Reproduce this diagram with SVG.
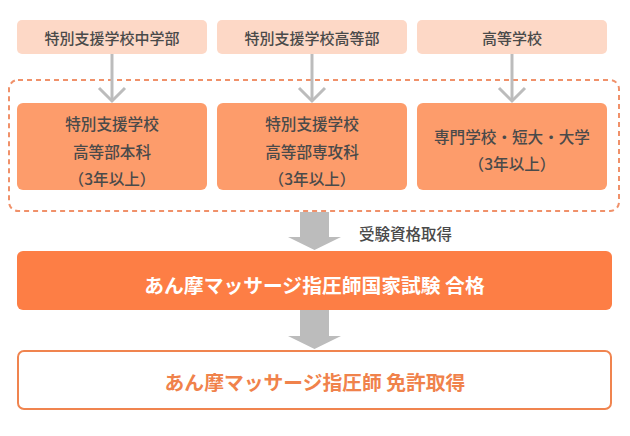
<svg xmlns="http://www.w3.org/2000/svg" width="630" height="436" viewBox="0 0 630 436">
<style>
text{font-family:"Noto Sans CJK JP","Noto Sans",sans-serif;dominant-baseline:central}
.t{font-size:15px;font-weight:500;fill:#4a4a4a;text-anchor:middle}
.m{font-size:15.6px}
.top{fill:#fdd8c6}
.mid{fill:#fd9c6b}
.arr{stroke:#bcbcbc;stroke-width:3;fill:none}
.big{fill:#bcbcbc}
.h{font-size:19.8px;font-weight:700;text-anchor:middle}
</style>
<rect x="0" y="0" width="630" height="436" fill="#ffffff"/>
<g id="container">
<rect x="9" y="80" width="610" height="131" rx="9" fill="none" stroke="#f0916a" stroke-width="2" stroke-dasharray="5 4"/>
</g>
<g id="top1"><rect class="top" x="17" y="20" width="190" height="34" rx="5"/><text class="t" x="112" y="37">特別支援学校中学部</text></g>
<g id="top2"><rect class="top" x="217" y="20" width="190" height="34" rx="5"/><text class="t" x="312" y="37">特別支援学校高等部</text></g>
<g id="top3"><rect class="top" x="417" y="20" width="190" height="34" rx="5"/><text class="t" x="512" y="37">高等学校</text></g>
<g id="mid1"><rect class="mid" x="17" y="103" width="190" height="87" rx="6"/>
<text class="t m" x="112" y="123">特別支援学校</text><text class="t m" x="112" y="151">高等部本科</text><text class="t m" x="112" y="178">（3年以上）</text></g>
<g id="mid2"><rect class="mid" x="217" y="103" width="190" height="87" rx="6"/>
<text class="t m" x="312" y="123">特別支援学校</text><text class="t m" x="312" y="151">高等部専攻科</text><text class="t m" x="312" y="178">（3年以上）</text></g>
<g id="mid3"><rect class="mid" x="417" y="103" width="190" height="87" rx="6"/>
<text class="t m" x="512" y="136">専門学校・短大・大学</text><text class="t m" x="512" y="163">（3年以上）</text></g>
<g id="exam"><rect x="17" y="251" width="595" height="59" rx="6" fill="#fd7e45"/>
<text class="h" x="314.5" y="284.5" fill="#ffffff">あん摩マッサージ指圧師国家試験 合格</text></g>
<g id="license"><rect x="18" y="351" width="593" height="58" rx="6" fill="#ffffff" stroke="#f0844f" stroke-width="2"/>
<text class="h" x="315" y="381" fill="#f0824b">あん摩マッサージ指圧師 免許取得</text></g>
<g id="connectors">
<line class="arr" x1="112" y1="54" x2="112" y2="101"/><polyline class="arr" points="99,88 112,101 125,88"/>
<line class="arr" x1="312" y1="54" x2="312" y2="101"/><polyline class="arr" points="299,88 312,101 325,88"/>
<line class="arr" x1="512" y1="54" x2="512" y2="101"/><polyline class="arr" points="499,88 512,101 525,88"/>
<polygon class="big" points="300,212 329,212 329,237 341,237 314.5,250 288,237 300,237"/>
<polygon class="big" points="300,310 329,310 329,336 341,336 314.5,349 288,336 300,336"/>
<text x="359" y="233" font-size="15.5" font-weight="500" fill="#4a4a4a">受験資格取得</text>
</g>
</svg>
